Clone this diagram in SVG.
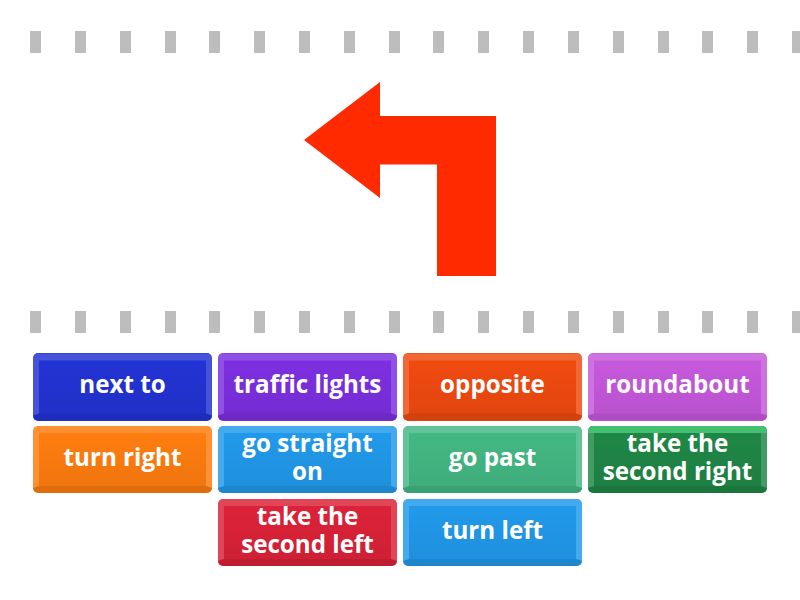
<svg xmlns="http://www.w3.org/2000/svg" width="800" height="600" viewBox="0 0 800 600">
<defs>
<linearGradient id="shade" x1="0" y1="0" x2="0" y2="1"><stop offset="0" stop-color="#000" stop-opacity="0"/><stop offset="1" stop-color="#000" stop-opacity="0.06"/></linearGradient>
<g id="ticks" fill="#bdbdbd">
<rect x="30" width="11" height="22"/><rect x="75" width="11" height="22"/><rect x="120" width="11" height="22"/><rect x="165" width="11" height="22"/><rect x="209" width="11" height="22"/><rect x="254" width="11" height="22"/><rect x="299" width="11" height="22"/><rect x="344" width="11" height="22"/><rect x="389" width="11" height="22"/><rect x="433" width="11" height="22"/><rect x="478" width="11" height="22"/><rect x="523" width="11" height="22"/><rect x="568" width="11" height="22"/><rect x="613" width="11" height="22"/><rect x="658" width="11" height="22"/><rect x="702" width="11" height="22"/><rect x="747" width="11" height="22"/><rect x="792" width="11" height="22"/>
</g>
<g id="bevel">
<path d="M0 5a5 5 0 0 1 5-5H174a5 5 0 0 1 5 5V62L173 60V7H6V60L0 62Z" fill="#fff" fill-opacity="0.16"/>
<path d="M0 62a5 5 0 0 0 5 5H174a5 5 0 0 0 5-5L173 60H6Z" fill="#000" fill-opacity="0.12"/>
<rect x="6" y="7" width="167" height="53" fill="url(#shade)"/>
</g>
</defs>
<style>
text{font-family:"Open Sans","Noto Sans",sans-serif;font-weight:700;font-size:24.200px;fill:#fff;text-anchor:middle}
</style>
<rect width="800" height="600" fill="#fff"/>
<use href="#ticks" y="31"/>
<use href="#ticks" y="311"/>
<path id="arrow" d="M304 140 380 82V116H496V276H437V164.500H380V198Z" fill="#ff2a00"/>
<g id="n1"><rect x="33" y="353" width="179" height="68" rx="5" fill="#2233d4"/><use href="#bevel" x="33" y="353.500"/><text x="122.500" y="393">next to</text></g>
<g id="n2"><rect x="218" y="353" width="179" height="68" rx="5" fill="#7c2fe0"/><use href="#bevel" x="218" y="353.500"/><text x="307.500" y="393">traffic lights</text></g>
<g id="n3"><rect x="403" y="353" width="179" height="68" rx="5" fill="#f04a10"/><use href="#bevel" x="403" y="353.500"/><text x="492.500" y="393">opposite</text></g>
<g id="n4"><rect x="588" y="353" width="179" height="68" rx="5" fill="#c658dc"/><use href="#bevel" x="588" y="353.500"/><text x="677.500" y="393">roundabout</text></g>
<g id="n5"><rect x="33" y="426" width="179" height="67" rx="5" fill="#ff7d0f"/><use href="#bevel" x="33" y="426"/><text x="122.500" y="466">turn right</text></g>
<g id="n6"><rect x="218" y="426" width="179" height="67" rx="5" fill="#2199ea"/><use href="#bevel" x="218" y="426"/><text x="307.500" y="452">go straight</text><text x="307.500" y="480">on</text></g>
<g id="n7"><rect x="403" y="426" width="179" height="67" rx="5" fill="#43b883"/><use href="#bevel" x="403" y="426"/><text x="492.500" y="466">go past</text></g>
<g id="n8"><rect x="588" y="426" width="179" height="67" rx="5" fill="#1f8746"/><path d="M588 431a5 5 0 0 1 5-5H762a5 5 0 0 1 5 5V433H588Z" fill="#20b455"/><use href="#bevel" x="588" y="426"/><text x="677.500" y="452">take the</text><text x="677.500" y="480">second right</text></g>
<g id="n9"><rect x="218" y="499" width="179" height="67" rx="5" fill="#dc2238"/><use href="#bevel" x="218" y="499"/><text x="307.500" y="525">take the</text><text x="307.500" y="553">second left</text></g>
<g id="n10"><rect x="403" y="499" width="179" height="67" rx="5" fill="#2199ea"/><use href="#bevel" x="403" y="499"/><text x="492.500" y="539">turn left</text></g>
<g id="connectors"/>
</svg>
